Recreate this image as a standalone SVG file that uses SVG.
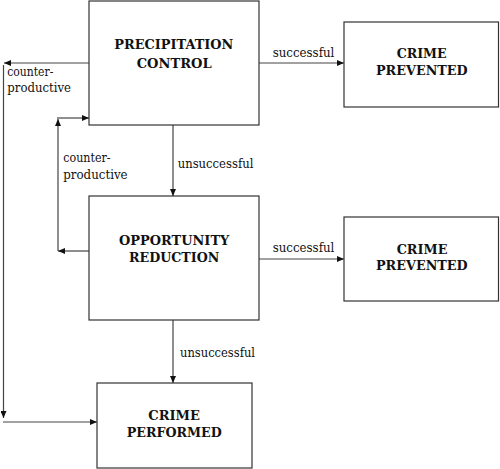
<svg xmlns="http://www.w3.org/2000/svg" width="500" height="469" viewBox="0 0 500 469">
<defs>
<marker id="ah" markerWidth="7" markerHeight="6" refX="7" refY="3" orient="auto" markerUnits="userSpaceOnUse">
<path d="M0,0 L7,3 L0,6 Z" fill="#111"/>
</marker>
</defs>
<style>
.box{fill:#fff;stroke:#333;stroke-width:1.2}
.t{font-family:'DejaVu Serif',serif;font-weight:bold;font-size:12.8px;fill:#111}
.l{font-family:'DejaVu Serif',serif;font-size:12.6px;fill:#111}
.c{fill:none;stroke:#444;stroke-width:1.2;marker-end:url(#ah)}
</style>
<rect width="500" height="469" fill="#fff"/>
<g id="connectors">
<line class="c" x1="259" y1="63" x2="344" y2="63"/>
<line class="c" x1="259" y1="259" x2="344" y2="259"/>
<line class="c" x1="173" y1="125" x2="173" y2="196"/>
<line class="c" x1="173" y1="320" x2="173" y2="383"/>
<line class="c" x1="89" y1="63" x2="4" y2="63"/>
<line class="c" x1="3.5" y1="65" x2="3.5" y2="418"/>
<line class="c" x1="3" y1="422" x2="97" y2="422"/>
<line class="c" x1="89" y1="251" x2="58" y2="251"/>
<line class="c" x1="58" y1="251" x2="58" y2="119"/>
<line class="c" x1="57" y1="118" x2="89" y2="118"/>
<text class="l" x="272.7" y="57" textLength="61.7" lengthAdjust="spacingAndGlyphs">successful</text>
<text class="l" x="272.7" y="252" textLength="61.7" lengthAdjust="spacingAndGlyphs">successful</text>
<text class="l" x="177.7" y="168" textLength="75.7" lengthAdjust="spacingAndGlyphs">unsuccessful</text>
<text class="l" x="180" y="357" textLength="75" lengthAdjust="spacingAndGlyphs">unsuccessful</text>
<text class="l" x="7.3" y="76" textLength="46" lengthAdjust="spacingAndGlyphs">counter-</text>
<text class="l" x="7.3" y="92" textLength="63.7" lengthAdjust="spacingAndGlyphs">productive</text>
<text class="l" x="63.3" y="162" textLength="47.3" lengthAdjust="spacingAndGlyphs">counter-</text>
<text class="l" x="63.3" y="179" textLength="64.3" lengthAdjust="spacingAndGlyphs">productive</text>
</g>
<g id="precipitation-control">
<rect class="box" x="89" y="1" width="170" height="124"/>
<text class="t" x="114.3" y="49" textLength="119" lengthAdjust="spacingAndGlyphs">PRECIPITATION</text>
<text class="t" x="136.7" y="68" textLength="75" lengthAdjust="spacingAndGlyphs">CONTROL</text>
</g>
<g id="crime-prevented-1">
<rect class="box" x="344" y="22" width="154.5" height="85"/>
<text class="t" x="396.7" y="58" textLength="50" lengthAdjust="spacingAndGlyphs">CRIME</text>
<text class="t" x="376" y="75" textLength="91.7" lengthAdjust="spacingAndGlyphs">PREVENTED</text>
</g>
<g id="opportunity-reduction">
<rect class="box" x="89" y="196" width="170" height="124"/>
<text class="t" x="119" y="245" textLength="110.3" lengthAdjust="spacingAndGlyphs">OPPORTUNITY</text>
<text class="t" x="129" y="262" textLength="90.3" lengthAdjust="spacingAndGlyphs">REDUCTION</text>
</g>
<g id="crime-prevented-2">
<rect class="box" x="344" y="217" width="154.5" height="84"/>
<text class="t" x="396.7" y="254" textLength="50.7" lengthAdjust="spacingAndGlyphs">CRIME</text>
<text class="t" x="376" y="270" textLength="91.7" lengthAdjust="spacingAndGlyphs">PREVENTED</text>
</g>
<g id="crime-performed">
<rect class="box" x="97" y="383" width="155" height="85"/>
<text class="t" x="148.3" y="420" textLength="51.7" lengthAdjust="spacingAndGlyphs">CRIME</text>
<text class="t" x="126.7" y="437" textLength="95" lengthAdjust="spacingAndGlyphs">PERFORMED</text>
</g>
</svg>
